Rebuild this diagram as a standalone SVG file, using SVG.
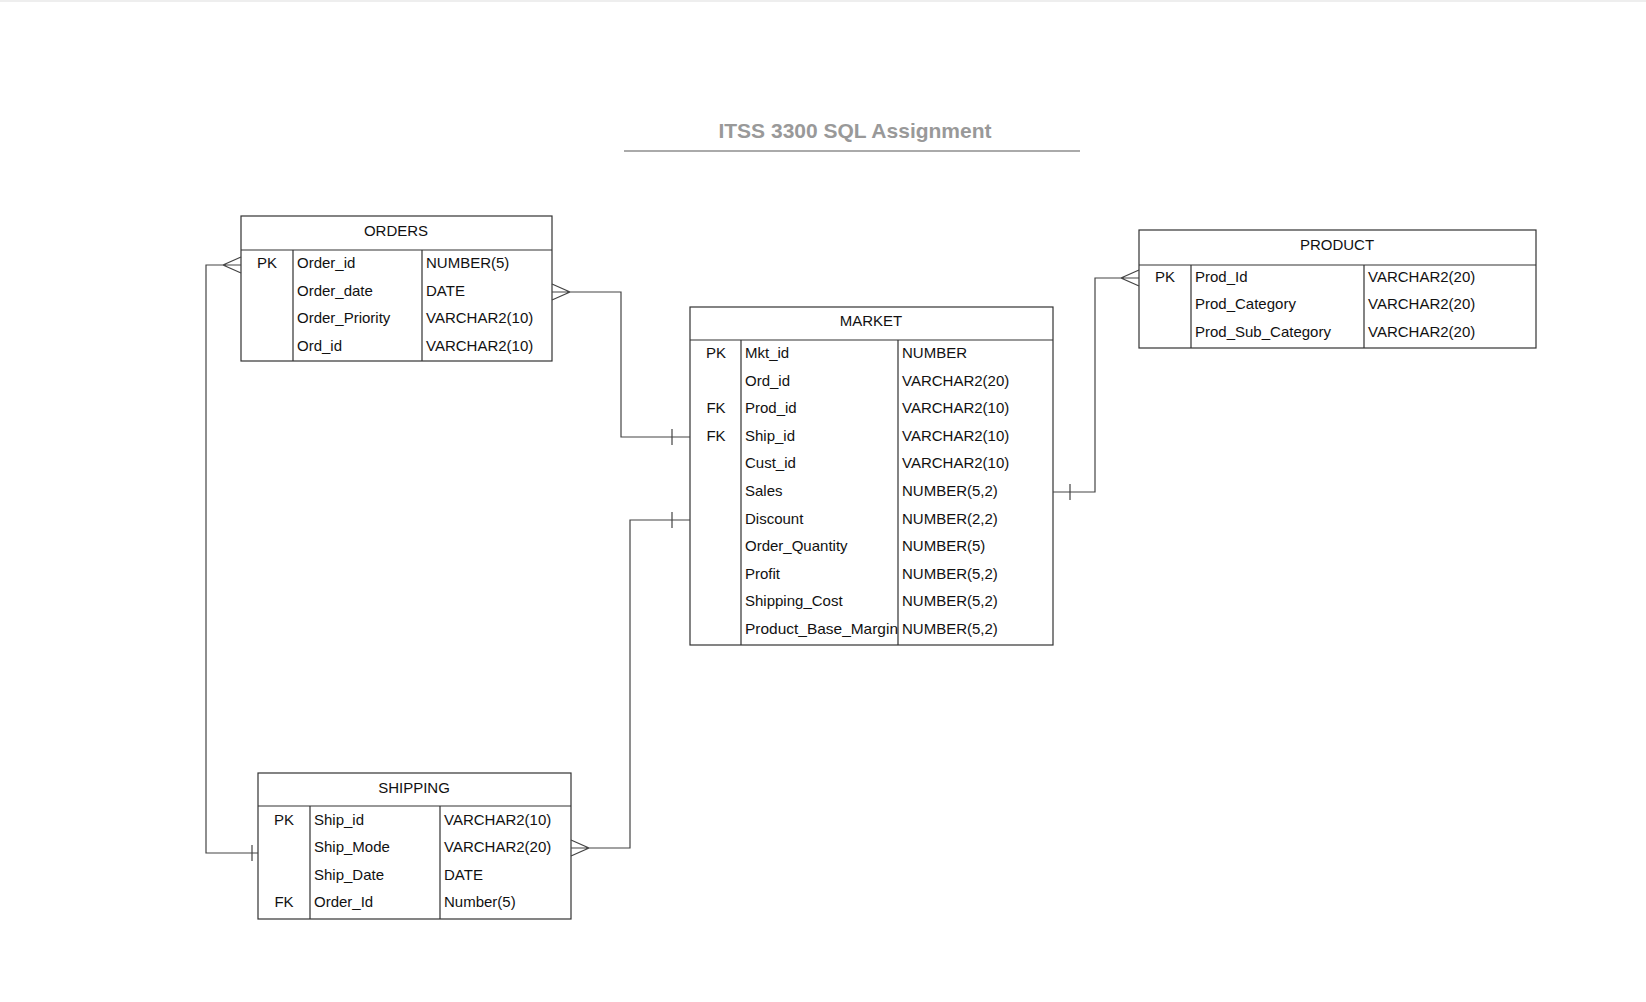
<svg xmlns="http://www.w3.org/2000/svg" width="1646" height="1002" viewBox="0 0 1646 1002">
<style>
.b{fill:#fff;stroke:#333;stroke-width:1.2}
.l{stroke:#333;stroke-width:1.2;fill:none}
text{font-family:"Liberation Sans",Arial,sans-serif;font-size:15px;fill:#111}
.h{text-anchor:middle}
.c{stroke:#444;stroke-width:1.2;fill:none}
</style>
<rect width="1646" height="1002" fill="#fff"/>
<rect width="1646" height="2" fill="#eee"/>
<g id="title">
<text x="855" y="138" class="h" style="font-size:21px;font-weight:bold;fill:#999">ITSS 3300  SQL Assignment</text>
<line x1="624" y1="151" x2="1080" y2="151" stroke="#aaa" stroke-width="2"/>
</g>
<g id="orders">
<rect class="b" x="241" y="216" width="311" height="145"/>
<path class="l" d="M241 250H552M293 250V361M422 250V361"/>
<text class="h" x="396" y="236">ORDERS</text>
<text class="h" x="267" y="268">PK</text>
<text x="297" y="268">Order_id</text><text x="426" y="268">NUMBER(5)</text>
<text x="297" y="296">Order_date</text><text x="426" y="296">DATE</text>
<text x="297" y="323">Order_Priority</text><text x="426" y="323">VARCHAR2(10)</text>
<text x="297" y="351">Ord_id</text><text x="426" y="351">VARCHAR2(10)</text>
</g>
<g id="market">
<rect class="b" x="690" y="307" width="363" height="338"/>
<path class="l" d="M690 340H1053M741 340V645M898 340V645"/>
<text class="h" x="871" y="326">MARKET</text>
<text class="h" x="716" y="358">PK</text><text x="745" y="358">Mkt_id</text><text x="902" y="358">NUMBER</text>
<text x="745" y="386">Ord_id</text><text x="902" y="386">VARCHAR2(20)</text>
<text class="h" x="716" y="413">FK</text><text x="745" y="413">Prod_id</text><text x="902" y="413">VARCHAR2(10)</text>
<text class="h" x="716" y="441">FK</text><text x="745" y="441">Ship_id</text><text x="902" y="441">VARCHAR2(10)</text>
<text x="745" y="468">Cust_id</text><text x="902" y="468">VARCHAR2(10)</text>
<text x="745" y="496">Sales</text><text x="902" y="496">NUMBER(5,2)</text>
<text x="745" y="524">Discount</text><text x="902" y="524">NUMBER(2,2)</text>
<text x="745" y="551">Order_Quantity</text><text x="902" y="551">NUMBER(5)</text>
<text x="745" y="579">Profit</text><text x="902" y="579">NUMBER(5,2)</text>
<text x="745" y="606">Shipping_Cost</text><text x="902" y="606">NUMBER(5,2)</text>
<text x="745" y="634" textLength="153" lengthAdjust="spacingAndGlyphs">Product_Base_Margin</text><text x="902" y="634">NUMBER(5,2)</text>
</g>
<g id="product">
<rect class="b" x="1139" y="230" width="397" height="118"/>
<path class="l" d="M1139 265H1536M1191 265V348M1364 265V348"/>
<text class="h" x="1337" y="250">PRODUCT</text>
<text class="h" x="1165" y="282">PK</text><text x="1195" y="282">Prod_Id</text><text x="1368" y="282">VARCHAR2(20)</text>
<text x="1195" y="309">Prod_Category</text><text x="1368" y="309">VARCHAR2(20)</text>
<text x="1195" y="337">Prod_Sub_Category</text><text x="1368" y="337">VARCHAR2(20)</text>
</g>
<g id="shipping">
<rect class="b" x="258" y="773" width="313" height="146"/>
<path class="l" d="M258 806H571M310 806V919M440 806V919"/>
<text class="h" x="414" y="793">SHIPPING</text>
<text class="h" x="284" y="825">PK</text><text x="314" y="825">Ship_id</text><text x="444" y="825">VARCHAR2(10)</text>
<text x="314" y="852">Ship_Mode</text><text x="444" y="852">VARCHAR2(20)</text>
<text x="314" y="880">Ship_Date</text><text x="444" y="880">DATE</text>
<text class="h" x="284" y="907">FK</text><text x="314" y="907">Order_Id</text><text x="444" y="907">Number(5)</text>
</g>
<g id="connectors">
<path class="c" d="M552 292H621V437H690M672 429V445M552 284L570 292L552 300"/>
<path class="c" d="M241 265H206V853H258M252 845V861M241 257L223 265L241 273"/>
<path class="c" d="M571 848H630V520H690M672 512V528M571 840L589 848L571 856"/>
<path class="c" d="M1053 492H1095V278H1139M1070 484V500M1139 270L1121 278L1139 286"/>
</g>
</svg>
